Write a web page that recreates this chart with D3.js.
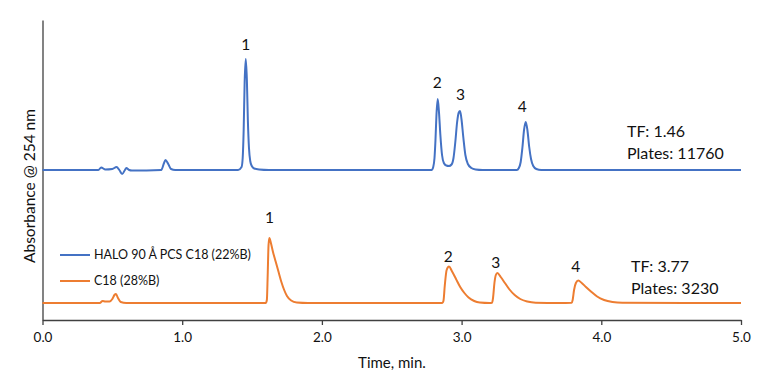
<!DOCTYPE html>
<html>
<head>
<meta charset="utf-8">
<script src="https://cdn.jsdelivr.net/npm/d3@7"></script>
<style>
  body { margin: 0; background: #fff; }
  svg { display: block; font-family: Lato, "Open Sans", sans-serif; }
</style>
</head>
<body>
<svg id="chart" width="768" height="382"></svg>
<script>
// chromatogram traces: [time (min), absorbance (arb.)]
const haloTrace = [
  [0.00, 150], [0.40, 150], [0.42, 152.5], [0.45, 150.5], [0.50, 151], [0.53, 153],
  [0.55, 150], [0.57, 146], [0.59, 150], [0.60, 152], [0.62, 150], [0.64, 149.5],
  [0.85, 150], [0.87, 157], [0.88, 160], [0.90, 156], [0.92, 151], [0.95, 150],
  [1.40, 150], [1.425, 153], [1.433, 162], [1.440, 190], [1.447, 238], [1.455, 261],
  [1.463, 240], [1.470, 200], [1.478, 172], [1.487, 159], [1.498, 154], [1.515, 151.5],
  [1.55, 150.5], [1.62, 150],
  [2.785, 150], [2.797, 153], [2.806, 162], [2.813, 180], [2.820, 205], [2.829, 221],
  [2.838, 208], [2.848, 185], [2.860, 165], [2.873, 157], [2.890, 154.5], [2.910, 154],
  [2.928, 155.5], [2.942, 162], [2.955, 178], [2.968, 198], [2.980, 207.5], [2.989, 209],
  [2.999, 201], [3.012, 183], [3.027, 165], [3.045, 156], [3.07, 152], [3.10, 150.5],
  [3.15, 150],
  [3.395, 150], [3.41, 152], [3.423, 158], [3.435, 172], [3.447, 190], [3.459, 198],
  [3.471, 190], [3.484, 173], [3.497, 161], [3.513, 154], [3.535, 151], [3.57, 150],
  [5.00, 150]
];

const c18Trace = [
  [0.00, 17], [0.41, 17], [0.43, 19], [0.45, 18.5], [0.48, 18.5], [0.50, 21],
  [0.515, 25], [0.526, 26], [0.54, 22], [0.56, 18], [0.60, 17],
  [1.598, 17], [1.606, 20], [1.612, 45], [1.618, 75], [1.624, 82], [1.635, 77],
  [1.65, 68], [1.67, 58], [1.69, 48], [1.71, 38], [1.73, 30], [1.75, 24],
  [1.78, 19.5], [1.82, 17.5], [1.90, 17],
  [2.862, 17], [2.870, 19], [2.880, 35], [2.893, 50], [2.910, 53.5], [2.93, 49],
  [2.96, 41], [2.99, 33], [3.02, 27], [3.05, 22.5], [3.09, 19], [3.13, 17.5], [3.20, 17],
  [3.218, 17.3], [3.225, 22], [3.235, 37], [3.245, 45], [3.256, 47], [3.28, 43],
  [3.31, 37], [3.34, 31], [3.38, 25], [3.42, 21], [3.47, 18.5], [3.53, 17.3], [3.70, 17],
  [3.788, 17.2], [3.795, 20], [3.805, 30], [3.818, 37], [3.835, 39.5], [3.86, 37],
  [3.89, 33], [3.93, 28], [3.97, 23.5], [4.02, 20], [4.08, 18], [4.15, 17.2],
  [5.00, 17]
];

// peak labels: [time, absorbance of label baseline, text]
const haloPeaks = [[1.455, 270, '1'], [2.826, 232, '2'], [2.992, 220, '3'], [3.435, 208, '4']];
const c18Peaks = [[1.625, 97, '1'], [2.905, 58, '2'], [3.245, 52, '3'], [3.818, 48, '4']];

const haloStats = ['TF: 1.46', 'Plates: 11760'];
const c18Stats = ['TF: 3.77', 'Plates: 3230'];

const seriesNames = ['HALO 90 Å PCS C18 (22%B)', 'C18 (28%B)'];
const seriesColors = ['#4472C4', '#ED7D31'];
const xTicks = [0, 1, 2, 3, 4, 5];

const svg = d3.select('#chart');
const margin = { left: 42.5, right: 27, top: 20, bottom: 62 };
const W = 768, H = 382;

const x = d3.scaleLinear().domain([0, 5]).range([margin.left, W - margin.right]);
const y = d3.scaleLinear().domain([0, 300]).range([H - margin.bottom, margin.top]);

// axes
const xAxis = svg.append('g')
  .attr('transform', `translate(0,${H - margin.bottom})`)
  .call(d3.axisBottom(x).tickValues(xTicks).tickFormat(d3.format('.1f')).tickSize(5).tickSizeOuter(0));
xAxis.select('.domain').attr('stroke', '#404040').attr('stroke-width', 1.3);
xAxis.selectAll('line').attr('stroke', '#404040').attr('stroke-width', 1.3);
xAxis.selectAll('text').attr('font-family', 'Lato, sans-serif').attr('font-size', 13.5)
  .attr('fill', '#111').attr('dy', '1.05em');

const yAxis = svg.append('g')
  .attr('transform', `translate(${margin.left},0)`)
  .call(d3.axisLeft(y).tickValues([]).tickSizeOuter(0));
yAxis.select('.domain').attr('stroke', '#404040').attr('stroke-width', 1.3);

svg.append('text')
  .attr('x', 392).attr('y', 368)
  .attr('text-anchor', 'middle').attr('font-size', 15).attr('fill', '#111')
  .text('Time, min.');

svg.append('text')
  .attr('transform', 'translate(35,186) rotate(-90)')
  .attr('text-anchor', 'middle').attr('font-size', 15.5).attr('fill', '#111')
  .text('Absorbance @ 254 nm');

// traces
const line = d3.line().x(d => x(d[0])).y(d => y(d[1])).curve(d3.curveMonotoneX);
[haloTrace, c18Trace].forEach((tr, i) => {
  svg.append('path').datum(tr)
    .attr('fill', 'none').attr('stroke', seriesColors[i]).attr('stroke-width', 2)
    .attr('stroke-linejoin', 'round')
    .attr('d', line);
});

// peak numbers
[haloPeaks, c18Peaks].forEach(peaks => {
  svg.append('g').selectAll('text').data(peaks).enter().append('text')
    .attr('x', d => x(d[0])).attr('y', d => y(d[1]))
    .attr('text-anchor', 'middle').attr('font-size', 15.5).attr('fill', '#111')
    .text(d => d[2]);
});

// TF / plates notes
const statBlock = (lines, px, py) => {
  svg.append('g').selectAll('text').data(lines).enter().append('text')
    .attr('x', px).attr('y', (d, i) => py + i * 22)
    .attr('font-size', 16).attr('fill', '#111')
    .text(d => d);
};
statBlock(haloStats, 627, 136.5);
statBlock(c18Stats, 631, 271.5);

// legend
const legend = svg.append('g');
seriesNames.forEach((name, i) => {
  const ly = 255 + i * 26;
  legend.append('line').attr('x1', 60).attr('x2', 90).attr('y1', ly).attr('y2', ly)
    .attr('stroke', seriesColors[i]).attr('stroke-width', 2);
  legend.append('text').attr('x', 94).attr('y', ly).attr('dy', '0.35em')
    .attr('font-size', 12.5).attr('fill', '#111').text(name);
});
</script>
</body>
</html>
